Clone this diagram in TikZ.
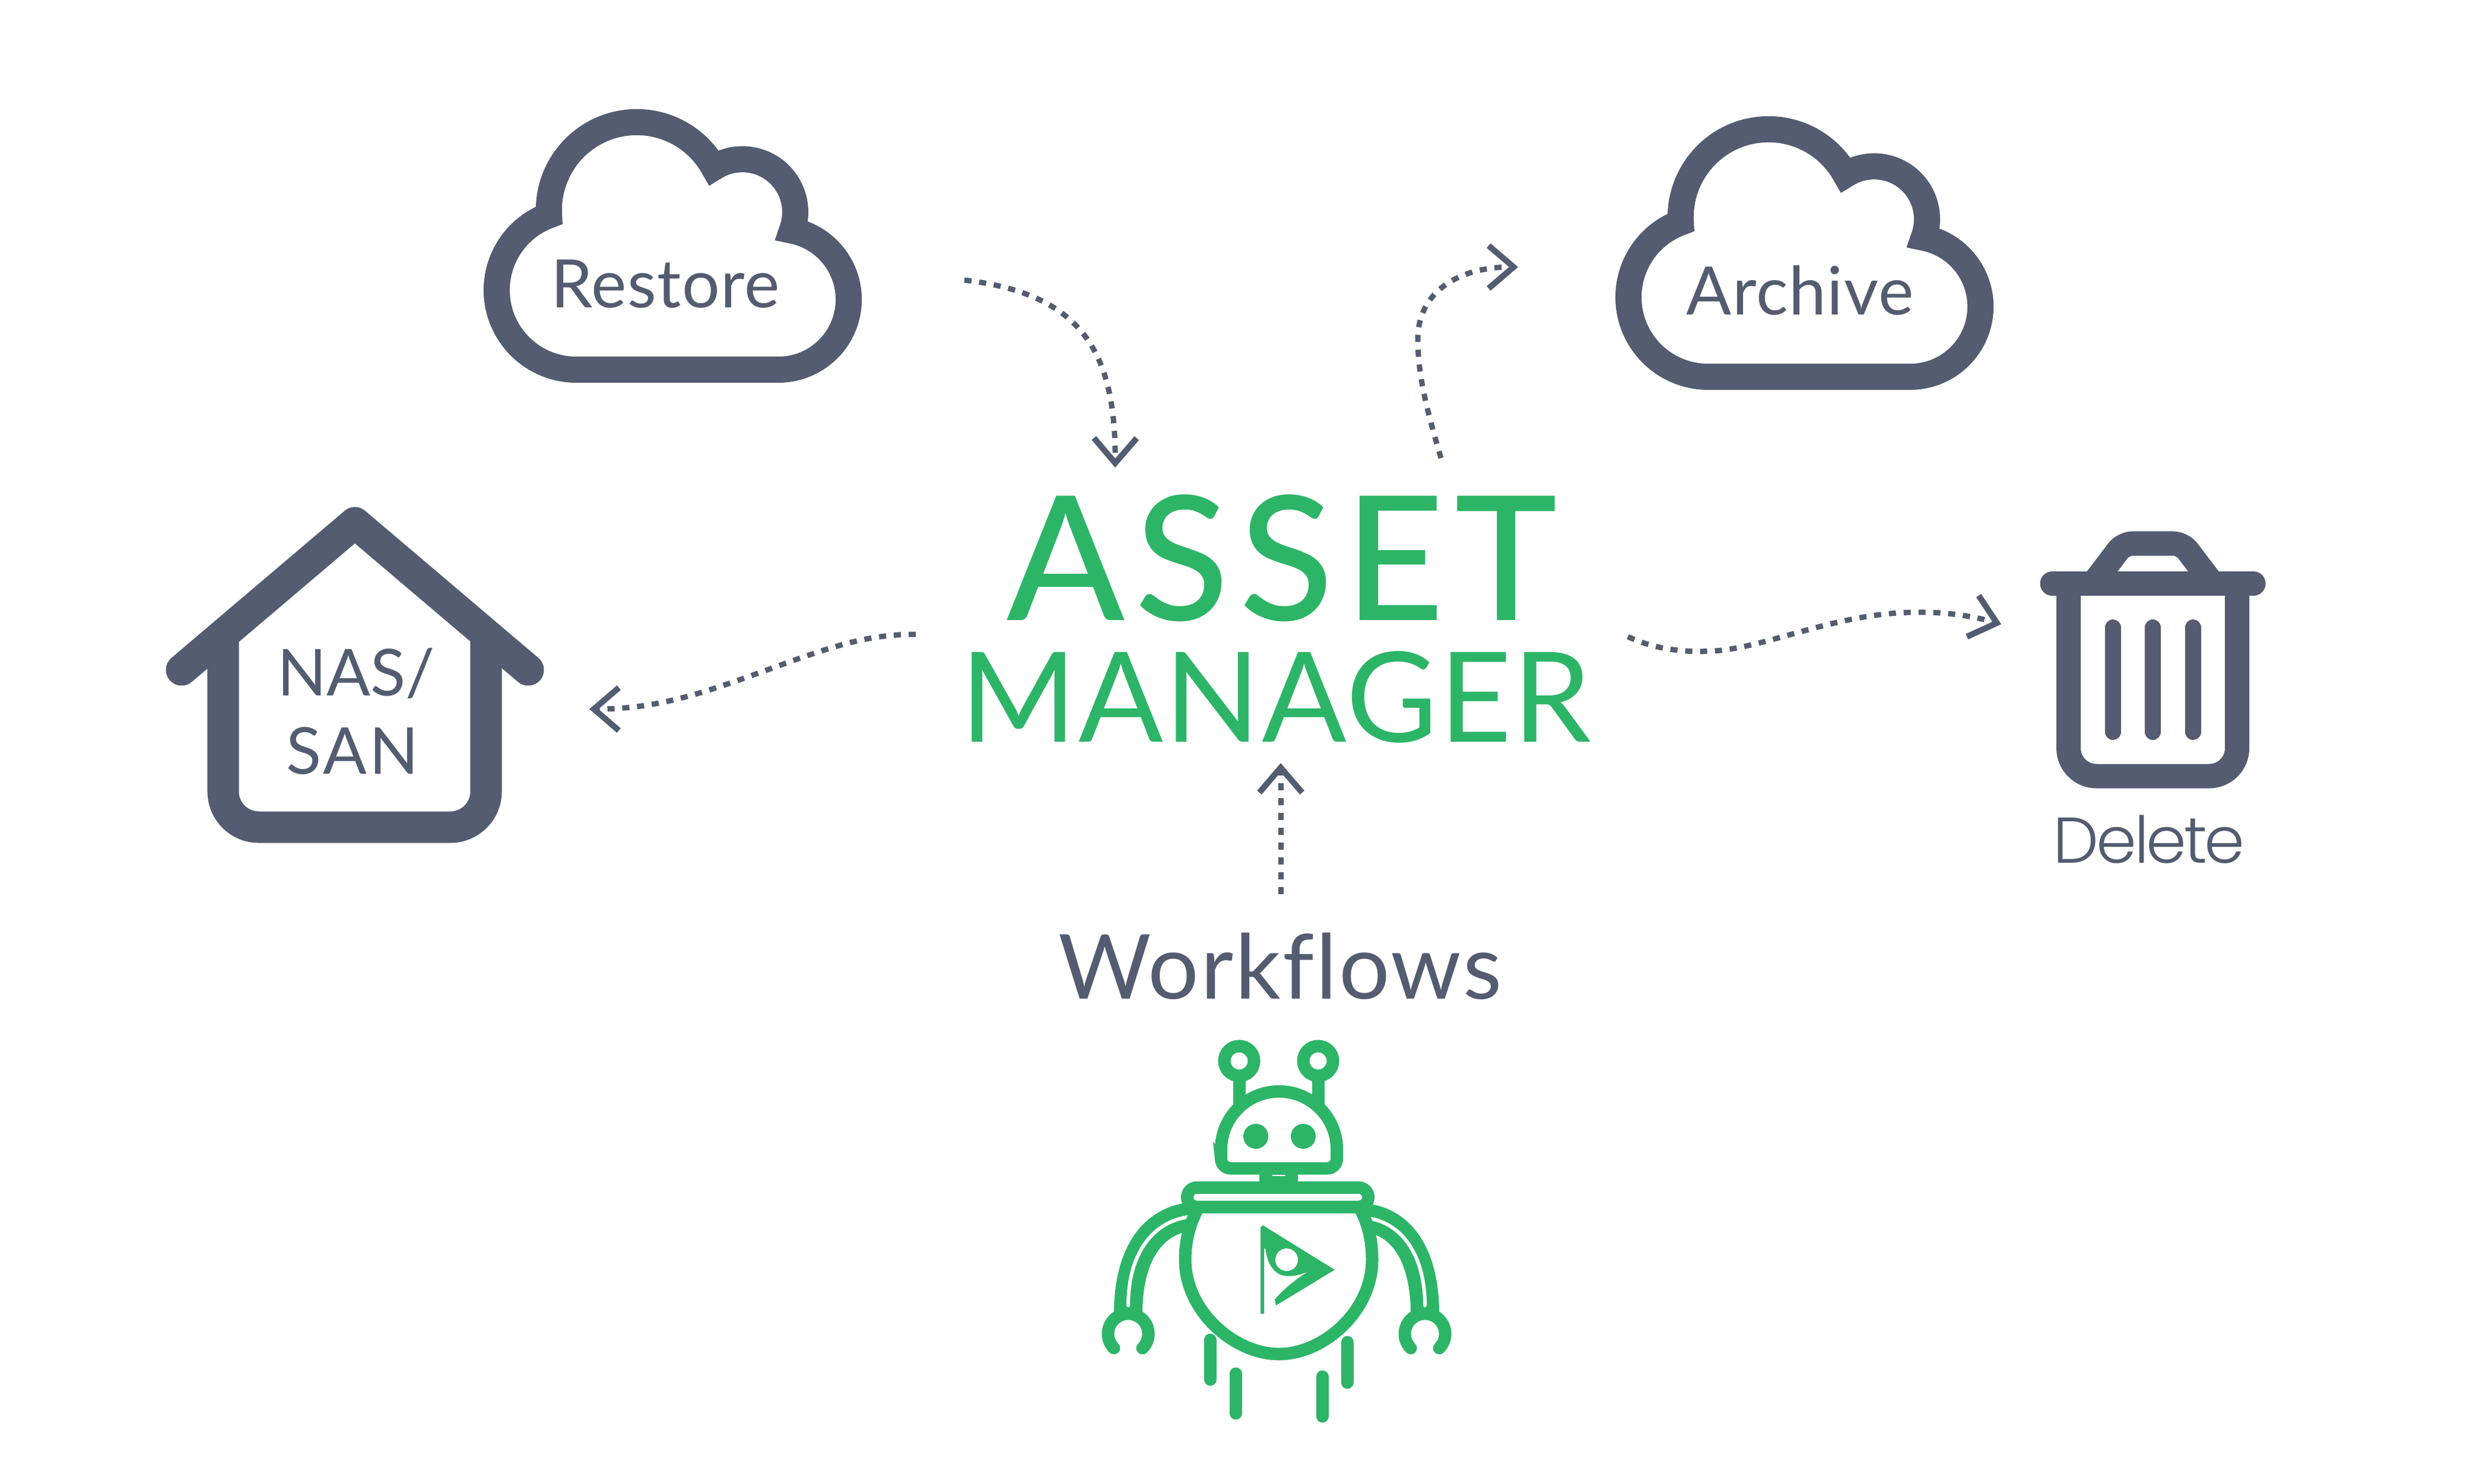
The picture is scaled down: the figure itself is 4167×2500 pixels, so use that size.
\documentclass[tikz,border=0pt]{standalone}
\usepackage{fontspec}
\usepackage{tikz}
\usetikzlibrary{arrows.meta}
\setmainfont{Lato}
\newfontfamily\assetfont{Lato Medium}[LetterSpace=6]
\newfontfamily\managerfont{Lato}[LetterSpace=1.3]
\newfontfamily\flowfont{Lato}[LetterSpace=2,Ligatures=NoCommon]
\newfontfamily\sanfont{Lato}[LetterSpace=4]
\newfontfamily\deletefont{Poppins Light}[LetterSpace=-4]
\definecolor{slategrey}{HTML}{535C70}
\definecolor{robotgreen}{HTML}{2DB567}
\tikzset{
	label/.style={inner sep=0pt,anchor=base,text=slategrey},
	title/.style={inner sep=0pt,anchor=base,text=robotgreen},
	icon/.style={draw=slategrey,line join=miter},
	robot/.style={draw=robotgreen,line width=.21cm},
	flow/.style={draw=slategrey,line width=.09cm,dash pattern=on .12cm off .13cm,-{Straight Barb[length=.42cm,width=.72cm,line width=.1cm]}},
	pics/cloud/.style={code={
		\draw[icon,line width=.44cm] (1200,623) -- (971,623)
			arc[start angle=270,end angle=110,radius=1.34cm]
			arc[start angle=183.5,end angle=28.8,radius=1.48cm]
			arc[start angle=122.8,end angle=-20.5,radius=.89cm]
			arc[start angle=79,end angle=-90,radius=1.1822cm]
			-- (1200,623);
	}}
}
\begin{document}
\begin{tikzpicture}[x=.01cm,y=-.01cm]
	\useasboundingbox (0,0) rectangle (4167,2500);
	% clouds
	\pic (restorecloud) at (0,0) {cloud};
	\pic (archivecloud) at (1907,12) {cloud};
	\node[label] (restore) at (1121,518) {\fontsize{32}{32}\managerfont Restore};
	\node[label] (archive) at (3033,530) {\fontsize{32}{32}\managerfont Archive};
	% house
	\draw[icon,line width=.53cm,line cap=round,line join=round] (306,1129) -- (598,881) -- (890,1129);
	\draw[icon,line width=.53cm,rounded corners=.6cm] (376,1069) -- (376,1394) -- (819,1394) -- (819,1069);
	\node[label] (nas) at (600,1172) {\fontsize{31}{31}\selectfont NAS/};
	\node[label] (san) at (594,1304) {\fontsize{31}{31}\sanfont SAN};
	% bin
	\draw[icon,line width=.41cm,line cap=round] (3458,983.5) -- (3797,983.5);
	\draw[icon,line width=.41cm,rounded corners=.47cm] (3485.5,983) -- (3485.5,1308) -- (3769.5,1308) -- (3769.5,983);
	\draw[icon,line width=.41cm,rounded corners=.15cm] (3527,983) -- (3578,916) -- (3677,916) -- (3728,983);
	\foreach \x in {3560,3627.5,3695}
		\draw[icon,line width=.27cm,line cap=round] (\x,1057.5) -- (\x,1233.5);
	\node[label] (delete) at (3621,1454) {\fontsize{31}{31}\deletefont Delete};
	% title
	\node[title] (asset) at (2160,1045) {\fontsize{83}{83}\assetfont ASSET};
	\node[title] (manager) at (2150,1250) {\fontsize{60}{60}\managerfont MANAGER};
	\node[label] (workflows) at (2157,1683) {\fontsize{43}{43}\flowfont Workflows};
	% connectors
	\coordinate (restoreout) at (1625,472);
	\coordinate (assetin) at (1879,788);
	\coordinate (archivein) at (2558,450);
	\coordinate (assetout) at (2428,772);
	\coordinate (nasin) at (993,1195);
	\coordinate (managerwest) at (1543,1069);
	\coordinate (deletein) at (3372,1052);
	\coordinate (managereast) at (2743,1073);
	\coordinate (managersouth) at (2158,1286);
	\coordinate (workflowsnorth) at (2158,1507);
	\draw[flow] (restoreout) .. controls (1820,495) and (1880,590) .. (assetin);
	\draw[flow] (assetout) .. controls (2410,710) and (2389,640) .. (2389,572) .. controls (2389,490) and (2460,450) .. (archivein);
	\draw[flow] (managerwest) .. controls (1460,1069) and (1400,1090) .. (1290,1130) .. controls (1190,1166) and (1110,1195) .. (nasin);
	\draw[flow] (managereast) .. controls (2790,1095) and (2840,1100) .. (2890,1097) .. controls (2980,1090) and (3090,1035) .. (3220,1032) .. controls (3280,1030) and (3330,1040) .. (deletein);
	\draw[flow] (workflowsnorth) -- (managersouth);
	% antennas
	\draw[robot] (2088,1788) circle[radius=.25cm];
	\draw[robot] (2221,1788) circle[radius=.25cm];
	\draw[robot] (2088,1813) -- (2088,1870);
	\draw[robot] (2221,1813) -- (2221,1870);
	% head
	\draw[robot] (2057.5,1953) -- (2057.5,1937) arc[start angle=180,end angle=0,radius=.975cm] -- (2252.5,1953) arc[start angle=0,end angle=-90,radius=.16cm] -- (2073.5,1969) arc[start angle=270,end angle=180,radius=.16cm] -- cycle;
	\fill[robotgreen] (2116,1915) circle[radius=.21cm];
	\fill[robotgreen] (2196,1915) circle[radius=.21cm];
	\fill[robotgreen,rounded corners=.1cm] (2122,1965) rectangle (2187,2005);
	\fill[white] (2144,1980) rectangle (2166,1982);
	% arms
	\draw[robot,line width=.48cm] (1901,2214) .. controls (1901,2110) and (1945,2055) .. (2010,2050);
	\draw[white,line width=.06cm,line cap=round] (1901,2200) .. controls (1901,2110) and (1945,2055) .. (2010,2050);
	\draw[robot,line width=.48cm] (2401,2214) .. controls (2401,2110) and (2357,2055) .. (2295,2052);
	\draw[white,line width=.06cm,line cap=round] (2401,2200) .. controls (2401,2110) and (2357,2055) .. (2295,2052);
	\draw[robot,line cap=round] (1877,2272) arc[start angle=225,end angle=-45,radius=.34cm];
	\draw[robot,line cap=round] (2377,2272) arc[start angle=225,end angle=-45,radius=.34cm];
	% body
	\draw[robot,fill=white] (2020,2034) .. controls (2005,2060) and (1997,2090) .. (1997,2123) .. controls (1997,2210) and (2080,2282) .. (2155,2282) .. controls (2230,2282) and (2312,2210) .. (2312,2123) .. controls (2312,2090) and (2305,2060) .. (2290,2034) -- cycle;
	\draw[robot,fill=white,rounded corners=.16cm] (2000.5,2001.5) rectangle (2305.5,2034);
	% flag
	\fill[robotgreen] (2124,2068) -- (2128,2065) -- (2249,2140) -- (2150,2200) -- (2148,2190) .. controls (2165,2170) and (2185,2155) .. (2204,2143) .. controls (2175,2155) and (2140,2160) .. (2132,2104) -- (2130,2104) -- (2130,2214) -- (2124,2214) -- cycle;
	\fill[white] (2168,2123) circle[radius=.19cm];
	% jets
	\foreach \x/\a/\b in {2039/2258/2325,2082/2315/2382,2228/2320/2387,2270/2262/2330}
		\draw[robot,line cap=round] (\x,\a) -- (\x,\b);
\end{tikzpicture}
\end{document}
